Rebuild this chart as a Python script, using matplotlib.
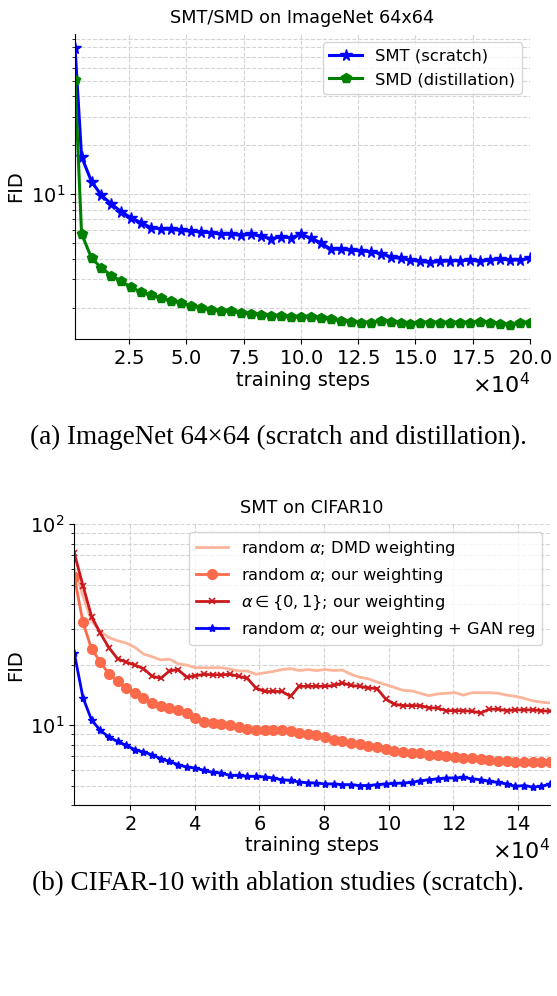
import numpy as np
import matplotlib
matplotlib.use('Agg')
import matplotlib.pyplot as plt
from matplotlib.ticker import MultipleLocator, ScalarFormatter

# ImageNet 64x64: 评估步数与 FID
steps_imagenet = np.concatenate([[1500], np.linspace(0, 200000, 47)[1:]])
fid_smt = [79.5, 17.0, 11.95, 9.82, 8.69, 7.77, 7.14, 6.66, 6.20, 6.12,
           6.06, 5.98, 5.92, 5.84, 5.79, 5.66, 5.66, 5.57, 5.66, 5.50,
           5.32, 5.45, 5.39, 5.66, 5.35, 5.03, 4.58, 4.58, 4.52, 4.47,
           4.43, 4.31, 4.11, 4.02, 3.93, 3.85, 3.80, 3.85, 3.89, 3.89,
           3.93, 3.85, 3.93, 3.98, 3.93, 3.93, 4.02]
fid_smd = [50.2, 5.7, 4.04, 3.51, 3.15, 2.90, 2.67, 2.49, 2.38, 2.29,
           2.20, 2.14, 2.06, 1.99, 1.94, 1.90, 1.90, 1.86, 1.82, 1.81,
           1.78, 1.78, 1.74, 1.76, 1.74, 1.72, 1.70, 1.66, 1.64, 1.62,
           1.62, 1.66, 1.64, 1.60, 1.58, 1.62, 1.62, 1.62, 1.60, 1.60,
           1.62, 1.64, 1.62, 1.58, 1.56, 1.60, 1.62]

# CIFAR10 消融实验
steps_cifar = np.linspace(0, 150000, 57)[1:]
fid_dmd_w = [60.0, 44.0, 33.0, 29.2, 27.3, 26.3, 25.6, 24.4, 22.6, 21.9,
             21.1, 21.3, 20.2, 19.9, 19.3, 19.3, 19.3, 19.3, 19.0, 18.6,
             18.6, 17.9, 18.2, 18.5, 18.9, 19.1, 18.7, 18.9, 18.7, 18.9,
             18.7, 18.8, 17.9, 17.3, 17.0, 16.4, 15.9, 15.4, 14.9, 14.8,
             14.4, 14.0, 14.3, 14.4, 14.5, 14.1, 14.5, 14.5, 14.5, 14.4,
             14.1, 13.9, 13.6, 13.2, 13.0, 12.9]
fid_our_w = [54.9, 32.5, 23.9, 20.7, 17.9, 16.6, 15.3, 14.4, 13.6, 12.9,
             12.4, 12.2, 11.9, 11.5, 10.9, 10.4, 10.2, 10.1, 10.0, 9.77,
             9.59, 9.48, 9.48, 9.40, 9.40, 9.29, 9.12, 9.07, 8.95, 8.68,
             8.38, 8.29, 8.14, 8.04, 7.83, 7.74, 7.60, 7.47, 7.34, 7.25,
             7.25, 7.12, 7.06, 6.98, 6.93, 6.85, 6.85, 6.77, 6.67, 6.64,
             6.59, 6.54, 6.54, 6.54, 6.54, 6.54]
fid_binary = [71.8, 49.5, 34.7, 28.7, 24.3, 21.4, 20.6, 19.9, 19.1, 17.5,
              17.1, 18.6, 18.9, 17.3, 17.6, 17.9, 17.8, 17.8, 17.9, 17.5,
              17.1, 15.3, 14.7, 14.7, 14.7, 13.9, 15.6, 15.6, 15.6, 15.6,
              15.75, 16.2, 15.75, 15.6, 15.3, 15.2, 13.5, 12.7, 12.5, 12.5,
              12.5, 12.2, 12.15, 11.8, 11.8, 11.8, 11.7, 11.5, 12.0, 12.0,
              11.8, 11.9, 11.9, 11.9, 11.8, 11.7]
fid_gan = [22.8, 13.7, 10.6, 9.40, 8.72, 8.29, 7.92, 7.54, 7.34, 7.12,
           6.80, 6.59, 6.35, 6.18, 6.11, 5.94, 5.81, 5.77, 5.61, 5.61,
           5.55, 5.55, 5.51, 5.45, 5.34, 5.30, 5.20, 5.16, 5.14, 5.09,
           5.09, 5.05, 5.05, 5.00, 5.00, 5.05, 5.09, 5.12, 5.14, 5.18,
           5.28, 5.34, 5.40, 5.45, 5.45, 5.49, 5.40, 5.34, 5.24, 5.18,
           5.09, 4.95, 5.00, 4.91, 4.95, 5.09]


def style_axis(ax):
    """对数 y 轴、虚线网格、x 轴固定为 ×10^4。"""
    ax.set_yscale('log')
    ax.grid(True, which='both', ls='--', color='#d4d4d4', lw=0.8)
    ax.spines['top'].set_visible(False)
    ax.spines['right'].set_visible(False)
    fmt = ScalarFormatter(useMathText=True)
    fmt.set_powerlimits((4, 4))
    ax.xaxis.set_major_formatter(fmt)
    ax.tick_params(labelsize=14)
    ax.xaxis.get_offset_text().set_fontsize(16)
    ax.set_xlabel('training steps', fontsize=14, labelpad=2)
    ax.set_ylabel('FID', fontsize=14)


fig = plt.figure(figsize=(5.57, 9.96), dpi=100)

ax1 = fig.add_axes([0.1347, 0.6596, 0.817, 0.3062])
ax1.plot(steps_imagenet, fid_smt, color='blue', marker='*', ms=8.5, lw=2.2,
         label='SMT (scratch)')
ax1.plot(steps_imagenet, fid_smd, color='green', marker='p', ms=7, lw=2.2,
         label='SMD (distillation)')
ax1.set_xlim(steps_imagenet[0], steps_imagenet[-1])
style_axis(ax1)
ax1.xaxis.set_major_locator(MultipleLocator(25000))
ax1.set_title('SMT/SMD on ImageNet 64x64', fontsize=12.7, pad=8)
ax1.legend(loc='upper right', fontsize=11.8)

ax2 = fig.add_axes([0.1334, 0.1918, 0.854, 0.2818])
ax2.plot(steps_cifar, fid_dmd_w, color='#fcb49a', lw=2,
         label=r'random $\alpha$; DMD weighting')
ax2.plot(steps_cifar, fid_our_w, color='#fb6a4a', marker='o', ms=7, lw=2,
         label=r'random $\alpha$; our weighting')
ax2.plot(steps_cifar, fid_binary, color='#cb181d', marker='x', ms=5, mew=1.2, lw=2,
         label=r'$\alpha \in \{0, 1\}$; our weighting')
ax2.plot(steps_cifar, fid_gan, color='blue', marker='*', ms=6, lw=2,
         label=r'random $\alpha$; our weighting + GAN reg')
ax2.set_xlim(steps_cifar[0], steps_cifar[-1])
ax2.set_ylim(4, 100)
style_axis(ax2)
ax2.set_title('SMT on CIFAR10', fontsize=12.7, pad=8)
ax2.legend(loc='upper right', fontsize=11.7)

fig.text(0.5, 1 - 437 / 996, '(a) ImageNet 64×64 (scratch and distillation).',
         ha='center', va='center', fontsize=19.5, family='Liberation Serif')
fig.text(0.5, 1 - 884 / 996, '(b) CIFAR-10 with ablation studies (scratch).',
         ha='center', va='center', fontsize=19.5, family='Liberation Serif')

fig.savefig('out.png', dpi=100)
